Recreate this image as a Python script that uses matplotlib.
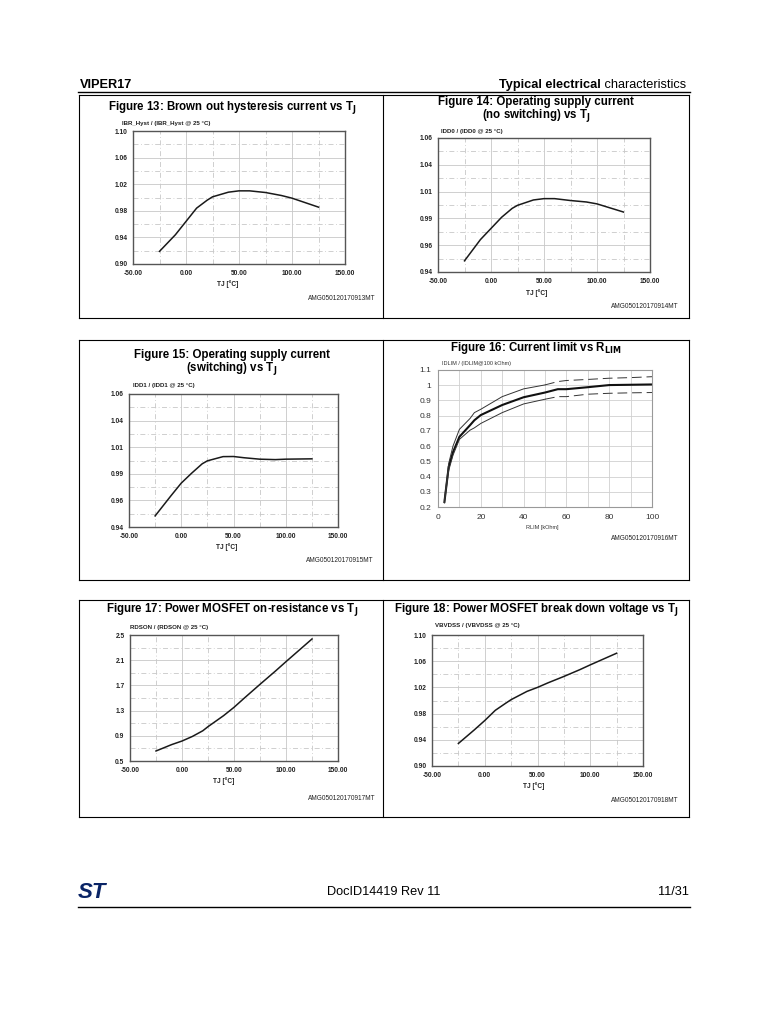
import matplotlib
matplotlib.use("Agg")
import matplotlib.pyplot as plt
import numpy as np
from matplotlib.ticker import FixedLocator, FormatStrFormatter

plt.rcParams['font.family'] = ['Liberation Sans', 'DejaVu Sans']

# ---- data ----
tj = [-25, -10, 0, 10, 20, 25, 40, 50, 60, 75, 90, 100, 125]

ibr_hyst = [0.919, 0.944, 0.964, 0.984, 0.996, 1.001, 1.008, 1.010, 1.010, 1.0075, 1.003, 0.999, 0.9855]
idd0 = [0.950, 0.969, 0.979, 0.989, 0.997, 0.9997, 1.0045, 1.0057, 1.0057, 1.004, 1.0027, 1.001, 0.9937]
idd1 = [0.950, 0.968, 0.9796, 0.9886, 0.997, 0.9997, 1.0035, 1.0036, 1.0025, 1.0012, 1.0008, 1.0012, 1.0015]
rdson = [0.659, 0.76, 0.817, 0.89, 0.98, 1.045, 1.22, 1.352, 1.50, 1.717, 1.93, 2.077, 2.437]
vbvdss = [0.9344, 0.955, 0.9694, 0.985, 0.996, 1.0013, 1.0139, 1.020, 1.027, 1.0367, 1.047, 1.0544, 1.0722]

rlim = [3, 5, 7, 10, 15, 17, 20, 30, 40, 50, 56, 60, 70, 80, 90, 100]
idlim_typ = [0.233, 0.464, 0.56, 0.661, 0.738, 0.77, 0.804, 0.870, 0.921, 0.952, 0.974, 0.974, 0.987, 1.001, 1.003, 1.005]
idlim_max = [0.248, 0.486, 0.60, 0.71, 0.782, 0.82, 0.842, 0.925, 0.976, 1.002, 1.024, 1.031, 1.038, 1.046, 1.050, 1.056]
idlim_min = [0.226, 0.44, 0.54, 0.644, 0.705, 0.72, 0.749, 0.82, 0.877, 0.908, 0.925, 0.925, 0.941, 0.947, 0.950, 0.952]

W, H = 768, 1024
fig = plt.figure(figsize=(W / 100, H / 100), dpi=100)


def fx(x):
    return x / W


def fy(y):
    return 1 - y / H


def txt(x, y, s, **kw):
    return fig.text(fx(x), fy(y), s, **kw)


def hline(x0, x1, y, lw=0.8):
    fig.add_artist(plt.Line2D([fx(x0), fx(x1)], [fy(y), fy(y)], color='black', lw=lw))


def vline(x, y0, y1, lw=0.8):
    fig.add_artist(plt.Line2D([fx(x), fx(x)], [fy(y0), fy(y1)], color='black', lw=lw))


def add_ax(x0, y0, x1, y1):
    return fig.add_axes([fx(x0), fy(y1), fx(x1) - fx(x0), (y1 - y0) / H])


def tj_plot(box, y, ylo, yhi, ylabel, lab_xy, xl_xy, fmt):
    ax = add_ax(*box)
    ax.plot(tj, y, color='#1a1a1a', lw=1.1)
    ax.set_xlim(-50, 150)
    ax.set_ylim(ylo, yhi)
    yt = np.linspace(ylo, yhi, 6)
    ax.xaxis.set_major_locator(FixedLocator([-50, 0, 50, 100, 150]))
    ax.xaxis.set_minor_locator(FixedLocator([-25, 25, 75, 125]))
    ax.yaxis.set_major_locator(FixedLocator(yt))
    ax.yaxis.set_minor_locator(FixedLocator((yt[:-1] + yt[1:]) / 2))
    ax.xaxis.set_major_formatter(FormatStrFormatter('%.2f'))
    ax.yaxis.set_major_formatter(FormatStrFormatter(fmt))
    ax.grid(True, which='major', color='#c8c8c8', lw=0.6, ls='-')
    ax.grid(True, which='minor', color='#c8c8c8', lw=0.6, ls=(0, (6, 3, 1, 3)))
    ax.tick_params(which='both', length=0, labelsize=4.8, pad=4, colors='#222222')
    for lb in ax.get_xticklabels() + ax.get_yticklabels():
        lb.set_fontweight('bold')
    for sp in ax.spines.values():
        sp.set_color('#555555')
        sp.set_linewidth(1.0)
    txt(lab_xy[0], lab_xy[1], ylabel, fontsize=4.4, fontweight='bold', color='#222222', va='center')
    txt(xl_xy[0], xl_xy[1], 'TJ [°C]', fontsize=4.8, fontweight='bold', color='#222222', ha='center', va='center')
    return ax


# ---- page frame ----
hfs = 9.2
txt(80, 85, 'VIPER17', fontsize=hfs, fontweight='bold', va='center')
t_reg = txt(686, 85, ' characteristics', fontsize=hfs, ha='right', va='center')
bb = t_reg.get_window_extent(renderer=fig.canvas.get_renderer())
fig.text(bb.x0 / W, fy(85), 'Typical electrical', fontsize=hfs, fontweight='bold', ha='right', va='center')
hline(78, 690, 92, lw=1.0)

for top, bot in [(95, 318), (340, 580), (600, 817)]:
    hline(79, 689, top)
    hline(79, 689, bot)
    vline(79, top, bot)
    vline(689, top, bot)
    vline(383, top, bot)

tfs = 8.3
tkw = dict(fontsize=tfs, fontweight='bold', ha='center', va='center')
txt(232, 108, r'Figure 13: Brown out hysteresis current vs T$_\mathbf{J}$', **tkw)
txt(536, 102.5, 'Figure 14: Operating supply current', **tkw)
txt(536, 116, r'(no switching) vs T$_\mathbf{J}$', **tkw)
txt(232, 355, 'Figure 15: Operating supply current', **tkw)
txt(232, 368.5, r'(switching) vs T$_\mathbf{J}$', **tkw)
txt(536, 348, r'Figure 16: Current limit vs R$_\mathbf{LIM}$', **tkw)
txt(232, 609, r'Figure 17: Power MOSFET on-resistance vs T$_\mathbf{J}$', **tkw)
txt(536, 609, r'Figure 18: Power MOSFET break down voltage vs T$_\mathbf{J}$', **tkw)

# ---- charts ----
tj_plot((133, 131, 345, 264), ibr_hyst, 0.90, 1.10, 'IBR_Hyst / (IBR_Hyst @ 25 °C)', (122, 124), (228, 284), '%.2f')
tj_plot((438, 138, 650, 272), idd0, 0.94, 1.06, 'IDD0 / (IDD0 @ 25 °C)', (441, 131), (537, 293), '%.2f')
tj_plot((129, 394, 338, 527), idd1, 0.94, 1.06, 'IDD1 / (IDD1 @ 25 °C)', (133, 386), (227, 547), '%.2f')
tj_plot((130, 635, 338, 761), rdson, 0.5, 2.5, 'RDSON / (RDSON @ 25 °C)', (130, 627), (224, 781), '%.1f')
tj_plot((432, 635, 643, 766), vbvdss, 0.90, 1.10, 'VBVDSS / (VBVDSS @ 25 °C)', (435, 626), (534, 786), '%.2f')

# figure 16: current limit
ax = add_ax(438, 370, 652, 507)
r = np.array(rlim)
solid = r <= 50
dash = r >= 50
ax.plot(r, idlim_typ, color='#111111', lw=1.5)
for s in (idlim_max, idlim_min):
    s = np.array(s)
    ax.plot(r[solid], s[solid], color='#333333', lw=0.7)
    ax.plot(r[dash], s[dash], color='#333333', lw=0.7, ls=(0, (10, 5)))
ax.set_xlim(0, 100)
ax.set_ylim(0.2, 1.1)
ax.set_xticks([0, 20, 40, 60, 80, 100])
ax.set_xticks(np.arange(0, 101, 10), minor=True)
ax.set_yticks(np.round(np.arange(0.2, 1.11, 0.1), 1))
ax.yaxis.set_major_formatter(FormatStrFormatter('%g'))
ax.grid(True, which='both', color='#d0d0d0', lw=0.6)
ax.tick_params(which='both', length=0, labelsize=6, pad=5, colors='#333333')
for sp in ax.spines.values():
    sp.set_color('#999999')
    sp.set_linewidth(0.8)
txt(442, 363, 'IDLIM / (IDLIM@100 kOhm)', fontsize=4, color='#333333', va='center')
txt(542, 528, 'RLIM [kOhm]', fontsize=4, color='#333333', ha='center', va='center')

# figure ids
ids = [(375, 298, '13'), (678, 307, '14'), (373, 561, '15'), (678, 539, '16'), (375, 799, '17'), (678, 800, '18')]
for x, y, n in ids:
    txt(x, y, 'AMG0501201709' + n + 'MT', fontsize=4.7, color='#222222', ha='right', va='center')

# ---- footer ----
txt(78, 893, 'ST', fontsize=16, fontweight='bold', fontstyle='italic', color='#0a2466', va='center')
txt(384, 892, 'DocID14419 Rev 11', fontsize=hfs, ha='center', va='center')
txt(689, 892, '11/31', fontsize=hfs, ha='right', va='center')
hline(78, 690, 907, lw=1.0)

plt.savefig('out.png', dpi=100, facecolor='white')
